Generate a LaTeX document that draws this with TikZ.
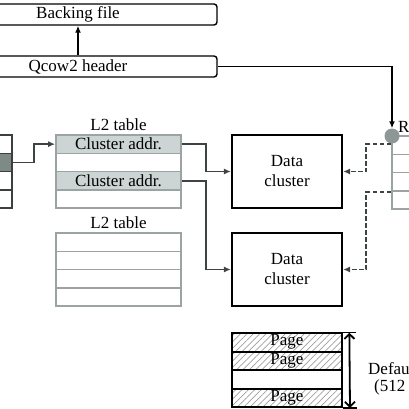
\documentclass[tikz,border=0pt]{standalone}
\usepackage{fontspec}
\setmainfont{Liberation Serif}
\usetikzlibrary{arrows.meta,patterns.meta,positioning}

\definecolor{cinzaFio}{HTML}{3D4444}
\definecolor{cinzaLum}{HTML}{3A3F3F}
\definecolor{cinzaLumF}{HTML}{7D8A86}
\definecolor{cinzaLdois}{HTML}{9CA3A3}
\definecolor{cinzaLdoisF}{HTML}{CDD5D4}
\definecolor{cinzaBola}{HTML}{8E9696}

\tikzset{
  caixa/.style={draw, line width=1.4pt, rounded corners=3pt, minimum width=278pt, minimum height=21pt, inner sep=0pt},
  linhaum/.style={draw=cinzaLum, line width=1.6pt, minimum width=125pt, minimum height=18.3pt, inner sep=0pt},
  linhadois/.style={draw=cinzaLdois, line width=1.6pt, minimum width=125pt, minimum height=18.3pt, inner sep=0pt},
  dados/.style={draw, line width=2.2pt, minimum width=110pt, minimum height=73pt, align=center, inner sep=0pt, font=\fontsize{17}{20}\selectfont},
  pagina/.style={draw, line width=2pt, minimum width=110pt, minimum height=18.5pt, inner sep=0pt},
  hachura/.style={pattern={Lines[angle=45,distance=4.5pt,line width=0.7pt]}, pattern color=gray!75},
  fio/.style={cinzaFio, line width=1.7pt, -{Latex[length=7pt,width=6pt]}},
  fiotrac/.style={fio, dash pattern=on 4.5pt off 2.5pt}
}

\begin{document}
\begin{tikzpicture}[x=1pt, y=-1pt, font=\fontsize{17}{18}\selectfont] %Escala em pixels
  \useasboundingbox (0,0) rectangle (409,409); %Tamanho da figura
  \clip (0,0) rectangle (409,409); %Figura cortada nas bordas
    %Cabeçalho
  \node[caixa] (backing) at (78,14.5) {Backing file}; %Arquivo base
  \node[caixa] (qcow) at (78,66.5) {Qcow2 header}; %Cabeçalho qcow2
  \draw[-{Latex[length=7pt,width=6pt]}, line width=1.4pt] (qcow.north) -- (backing.south);
    %Tabela L1
  \foreach \i in {1,...,4} {
    \node[linhaum] (lum\i) at (-50.5,125.85+18.3*\i) {}; %Linhas da tabela L1
  }
  \node[linhaum, fill=cinzaLumF] at (lum2) {}; %Linha ativa
    %Tabelas L2
  \foreach \i in {1,...,4} {
    \node[linhadois] (la\i) at (118.5,125.85+18.3*\i) {}; %Primeira tabela L2
    \node[linhadois] (lb\i) at (118.5,223.85+18.3*\i) {}; %Segunda tabela L2
  }
  \node[linhadois, fill=cinzaLdoisF] at (la1) {Cluster addr.};
  \node[linhadois, fill=cinzaLdoisF] at (la3) {Cluster addr.};
  \node[above=0pt of la1] (rotA) {L2 table};
  \node[above=0pt of lb1] (rotB) {L2 table};
    %Clusters de dados
  \node[dados] (dc1) at (287,171.5) {Data\\cluster};
  \node[dados] (dc2) at (287,269.5) {Data\\cluster};
    %Tabela de contagem
  \foreach \i in {1,...,4} {
    \node[linhadois] (ref\i) at (454.5,126.85+18.3*\i) {}; %Linhas da tabela de contagem
  }
  \node[circle, fill=cinzaBola, minimum size=15pt, inner sep=0pt] (bola) at (392,136) {};
  \node[anchor=west, inner sep=0pt] (rotRef) at (398,127) {Refcount table};
    %Ligações
  \draw[fio] (lum2.east) -- ++(21,0) |- (la1.west);
  \draw[fio] (la1.east) -- ++(24,0) |- (dc1.west);
  \draw[fio] (la3.east) -- ++(24,0) |- (dc2.west);
  \draw[fiotrac] ([yshift=-9pt]ref1.north west) -- ++(-25,0) |- (dc1.east);
  \draw[fiotrac] ([yshift=-2pt]ref4.north west) -- ++(-25,0) |- (dc2.east);
  \draw[-{Latex[length=7pt,width=6pt]}, line width=1.4pt] (qcow.east) -| (bola.north);
    %Páginas
  \node[pagina, hachura] (pg1) at (287,342.25) {Page};
  \node[pagina, hachura] (pg2) at (287,360.75) {Page};
  \node[pagina] (pg3) at (287,379.25) {};
  \node[pagina, hachura] (pg4) at (287,397.75) {Page};
  \draw[line width=1.2pt] (pg1.north east) -- ++(14,0);
  \draw[line width=1.2pt] (pg4.south east) -- ++(14,0);
  \draw[{Straight Barb[length=5pt,width=10pt]}-{Straight Barb[length=5pt,width=10pt]}, line width=1.8pt] ([xshift=7pt]pg1.north east) -- ([xshift=7pt]pg4.south east);
  \node[anchor=west, inner sep=0pt] (tam) at (368,369) {Default size};
  \node[anchor=west, inner sep=0pt] (tamB) at (374,387) {(512 B)};
\end{tikzpicture}
\end{document}
